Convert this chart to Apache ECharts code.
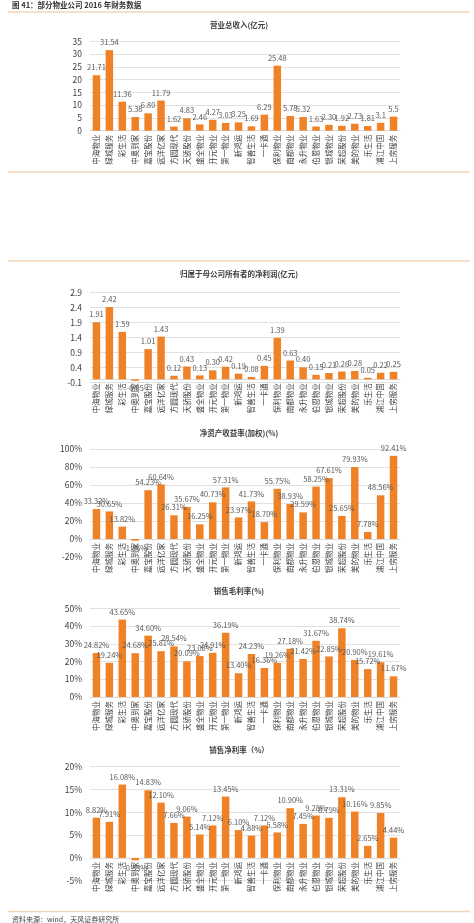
<!DOCTYPE html>
<html>
<head>
<meta charset="utf-8">
<script src="https://cdn.jsdelivr.net/npm/echarts@6/dist/echarts.min.js"></script>
<style>
html,body{margin:0;padding:0;background:#fff;}
#c{width:474px;height:923px;}
</style>
</head>
<body>
<div id="c"></div>
<script>
const companies = ['中海物业','绿城服务','彩生活','中奥到家','嘉宝股份','远洋亿家','方圆现代','天骄股份','盛全物业','开元物业','第一物业','新鸿运','智善生活','一卡通','保利物业','南都物业','永升物业','伯恩物业','银城物业','荣超股份','美的物业','乐生活','浦江中国','上房服务'];
const revenue = ['21.71','31.54','11.36','5.38','6.80','11.79','1.62','4.83','2.46','4.27','3.03','3.25','1.69','6.29','25.48','5.78','5.32','1.63','2.30','1.92','2.73','1.81','3.1','5.5'];
const netProfit = [1.91,2.42,1.59,-0.05,1.01,1.43,0.12,0.43,0.13,0.30,0.42,0.19,0.08,0.45,1.39,0.63,0.40,0.15,0.21,0.26,0.28,0.05,0.22,0.25];
const roe = [33.32,30.65,13.82,-1.86,54.23,60.64,26.31,35.67,16.25,40.73,57.31,23.97,41.73,18.70,55.75,38.93,29.59,58.25,67.61,25.65,79.93,7.78,48.56,92.41];
const grossMargin = [24.82,19.24,43.65,24.68,34.60,25.81,28.54,20.09,23.08,24.91,36.19,13.40,24.23,16.36,19.26,27.18,21.42,31.67,22.85,38.74,20.90,15.72,19.61,11.67];
const netMargin = [8.82,7.91,16.08,-0.53,14.83,12.10,7.66,9.06,5.14,7.12,13.45,6.10,4.88,7.12,5.58,10.90,7.45,9.28,8.79,13.31,10.16,2.65,9.85,4.44];

const titles = ['营业总收入(亿元)','归属于母公司所有者的净利润(亿元)','净资产收益率(加权)(%)','销售毛利率(%)','销售净利率（%）'];
const headerText = '图 41：部分物业公司 2016 年财务数据';
const sourceText = '资料来源：wind，天风证券研究所';

const FONT = '"Noto Sans CJK SC", "Liberation Sans", sans-serif';
const ORANGE = '#EF8226';
const LINE = '#F2D6BC';

const panels = [
  {top:41.3, height:89.4, min:0, max:35, interval:5, data:revenue, yfmt:v=>String(v), lfmt:p=>revenue[p.dataIndex], tTop:25},
  {top:292.7, height:89.6, min:-0.1, max:2.9, interval:0.5, data:netProfit, yfmt:v=>v.toFixed(1), lfmt:p=>netProfit[p.dataIndex].toFixed(2), tTop:274},
  {top:449, height:108, min:-20, max:100, interval:20, data:roe, yfmt:v=>Math.round(v)+'%', lfmt:p=>roe[p.dataIndex].toFixed(2)+'%', tTop:433},
  {top:608.3, height:88.7, min:0, max:50, interval:10, data:grossMargin, yfmt:v=>Math.round(v)+'%', lfmt:p=>grossMargin[p.dataIndex].toFixed(2)+'%', tTop:591},
  {top:766.7, height:114, min:-5, max:20, interval:5, data:netMargin, yfmt:v=>Math.round(v)+'%', lfmt:p=>netMargin[p.dataIndex].toFixed(2)+'%', tTop:750}
];

const grid = [], xAxis = [], yAxis = [], series = [], graphic = [];
panels.forEach((p, i) => {
  // place the category axis on the zero line of the value scale
  const zeroOffset = -(0 - p.min) / (p.max - p.min) * p.height;
  grid.push({left:90, right:74, top:p.top, height:p.height});
  xAxis.push({
    type:'category', gridIndex:i, data:companies,
    offset: zeroOffset,
    axisTick:{show:false},
    axisLine:{onZero:false, lineStyle:{color:'#d9d9d9', width:1}},
    axisLabel:{rotate:90, interval:0, fontSize:7.5, color:'#404040', fontFamily:FONT, margin:4}
  });
  yAxis.push({
    type:'value', gridIndex:i, min:p.min, max:p.max, interval:p.interval,
    axisLine:{show:false}, axisTick:{show:false},
    splitLine:{lineStyle:{color:'#d9d9d9', width:0.8}},
    axisLabel:{fontSize:8.5, color:'#404040', fontFamily:FONT, margin:8, formatter:p.yfmt}
  });
  series.push({
    type:'bar', xAxisIndex:i, yAxisIndex:i, barWidth:'58%',
    itemStyle:{color:ORANGE},
    label:{show:true, position:'top', distance:4, fontSize:7.5, color:'#595959', fontFamily:FONT, formatter:p.lfmt},
    data:p.data.map(v => Number(v) < 0 ? {value:Number(v), label:{position:'bottom'}} : Number(v)),
    animation:false
  });
  graphic.push({type:'text', x:239, y:p.tTop, style:{text:titles[i], font:'bold 7.5px '+FONT, fill:'#404040', textAlign:'center', textVerticalAlign:'middle'}});
});

graphic.push({type:'text', x:12, y:5, style:{text:headerText, font:'bold 7.5px '+FONT, fill:'#333', textAlign:'left', textVerticalAlign:'middle'}});
graphic.push({type:'text', x:12, y:919, style:{text:sourceText, font:'7px '+FONT, fill:'#444', textAlign:'left', textVerticalAlign:'middle'}});
[12, 172, 261, 911.5].forEach(y => {
  graphic.push({type:'line', shape:{x1:8, y1:y, x2:470, y2:y}, style:{stroke:LINE, lineWidth:1.5}});
});

const chart = echarts.init(document.getElementById('c'), null, {renderer:'canvas'});
chart.setOption({animation:false, textStyle:{fontFamily:FONT}, grid, xAxis, yAxis, series, graphic});
</script>
</body>
</html>
